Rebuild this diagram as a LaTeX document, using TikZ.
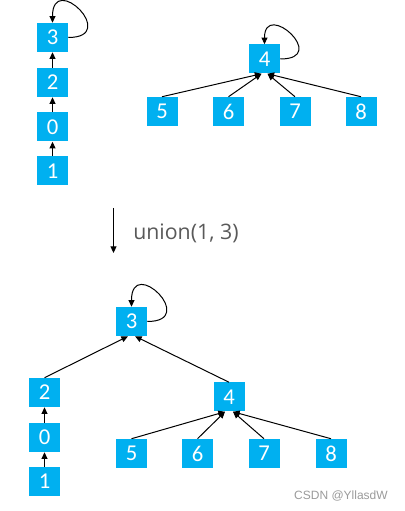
\documentclass[tikz,border=0pt]{standalone}
\usepackage{fontspec}
\setmainfont{Carlito}
\newfontfamily\uifont{Open Sans}
\newfontfamily\csdnfont{Liberation Sans}
\usetikzlibrary{arrows.meta,calc}
\definecolor{boxblue}{HTML}{00B0F0}
\definecolor{labelgray}{HTML}{595959}
\definecolor{csdngray}{HTML}{9A9A9A}
\begin{document}
\begin{tikzpicture}[x=0.75pt,y=0.75pt,
  uf/.style={fill=boxblue, text=white, inner sep=0pt, minimum width=23.25pt, minimum height=21.75pt, font=\fontsize{17}{17}\selectfont},
  link/.style={-{Triangle[length=5pt,width=4.5pt]}, line width=0.75pt, black}]
\useasboundingbox (0,0) rectangle (404,511);
% top-left chain
\node[uf] (a3) at (52.5,473.5) {3};
\node[uf] (a2) at (52.5,428.5) {2};
\node[uf] (a0) at (52.5,384) {0};
\node[uf] (a1) at (52.5,340) {1};
\draw[link] (a1) -- (a0);
\draw[link] (a0) -- (a2);
\draw[link] (a2) -- (a3);
\draw[link] (a3.east) .. controls +(52,0) and +(0,52) .. (a3.north);
% top-right tree
\node[uf] (t4) at (264.5,452) {4};
\node[uf] (t5) at (162,399.5) {5};
\node[uf] (t6) at (228.5,399.5) {6};
\node[uf] (t7) at (295,399.5) {7};
\node[uf] (t8) at (361,399.5) {8};
\draw[link] (t5.north) -- ($(t4.south)+(-3,0)$);
\draw[link] (t6.north) -- ($(t4.south)+(-3,0)$);
\draw[link] (t7.north) -- ($(t4.south)+(3,0)$);
\draw[link] (t8.north) -- ($(t4.south)+(3,0)$);
\draw[link] (t4.east) .. controls +(50,0) and +(0,45) .. (t4.north);
% operation
\coordinate (u1) at (113.5,303);
\coordinate (u2) at (113.5,258);
\draw[link] (u1) -- (u2);
\node[anchor=west, inner sep=0pt, text=labelgray, font=\uifont\fontsize{16}{16}\selectfont] (lbl) at (133,278) {union(1, 3)};
% bottom tree
\node[uf] (b3) at (131.5,189.5) {3};
\node[uf] (b2) at (44.5,118.5) {2};
\node[uf] (b0) at (44.5,73.5) {0};
\node[uf] (b1) at (44.5,29.5) {1};
\node[uf] (b4) at (229,114) {4};
\node[uf] (b5) at (131.5,57.5) {5};
\node[uf] (b6) at (197.5,57.5) {6};
\node[uf] (b7) at (264,57.5) {7};
\node[uf] (b8) at (331,57.5) {8};
\draw[link] (b1) -- (b0);
\draw[link] (b0) -- (b2);
\draw[link] (b2.north) -- ($(b3.south)+(-3.5,0)$);
\draw[link] (b4.north) -- ($(b3.south)+(3.5,0)$);
\draw[link] (b5.north) -- ($(b4.south)+(-4,0)$);
\draw[link] (b6.north) -- ($(b4.south)+(-4,0)$);
\draw[link] (b7.north) -- ($(b4.south)+(4,0)$);
\draw[link] (b8.north) -- ($(b4.south)+(4,0)$);
\draw[link] (b3.east) .. controls +(52,0) and +(0,52) .. (b3.north);
\node[anchor=east, inner sep=0pt, text=csdngray, font=\csdnfont\fontsize{9}{9}\selectfont] (csdn) at (388,15.5) {CSDN @YllasdW};
\end{tikzpicture}
\end{document}
